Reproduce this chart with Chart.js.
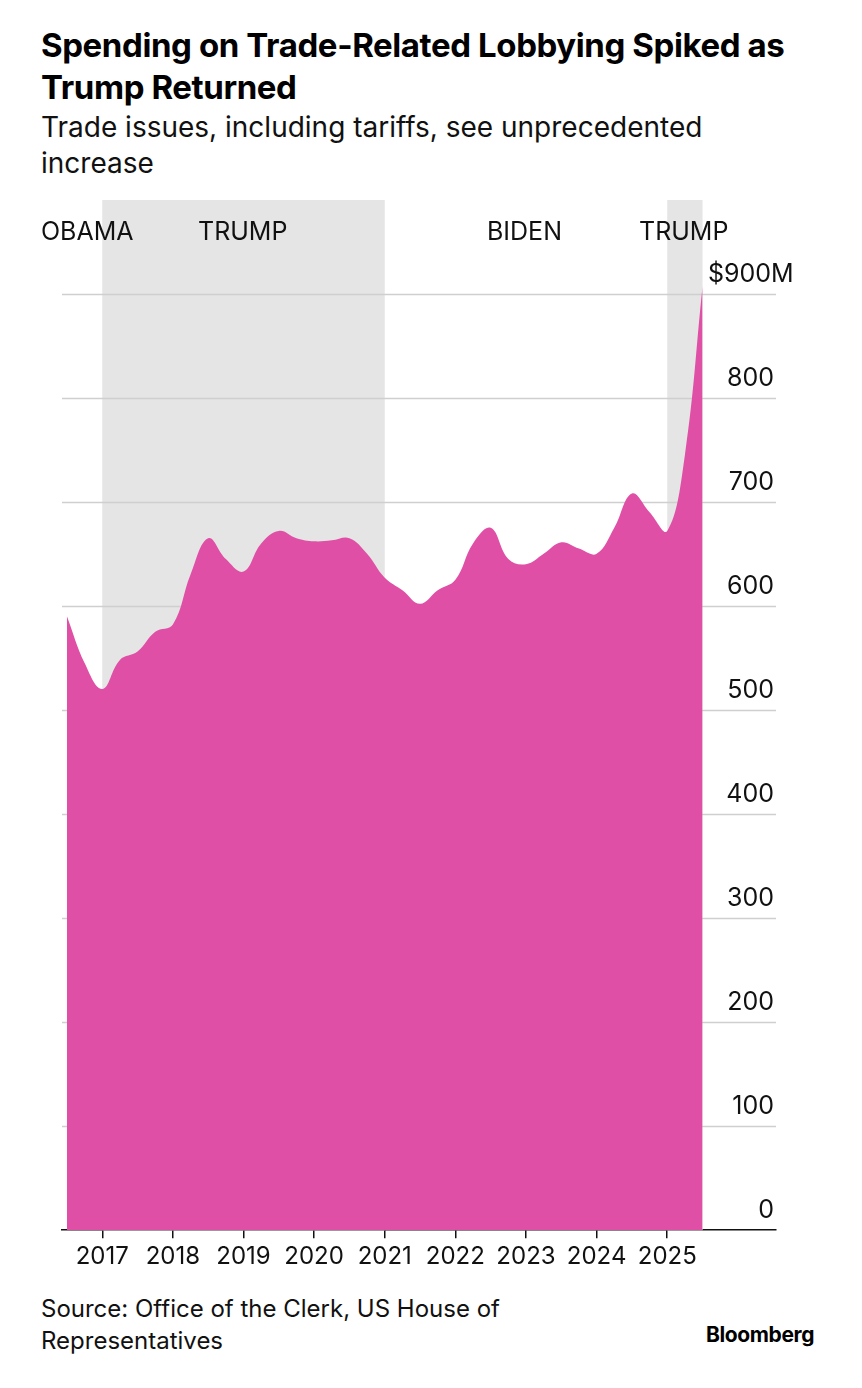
<!DOCTYPE html>
<html>
<head>
<meta charset="utf-8">
<script src="https://cdn.jsdelivr.net/npm/chart.js@4"></script>
<style>
  body { margin:0; width:862px; height:1388px; background:#fff; font-family:Inter, "Noto Sans", sans-serif; position:relative; overflow:hidden; }
  h1 { position:absolute; left:41px; top:24px; margin:0; font-size:33px; line-height:42px; font-weight:700; width:800px; letter-spacing:-0.4px; }
  .sub { position:absolute; left:41px; top:109px; font-size:28px; line-height:36px; width:720px; color:#111; }
  .src { position:absolute; left:41px; top:1293px; font-size:24px; line-height:32px; color:#111; }
  .logo { position:absolute; right:48px; top:1322px; font-size:21px; font-weight:700; letter-spacing:-0.4px; }
  #wrap { position:absolute; left:0; top:195px; width:862px; height:1080px; }
</style>
</head>
<body>
<h1>Spending on Trade-Related Lobbying Spiked as Trump Returned</h1>
<div class="sub">Trade issues, including tariffs, see unprecedented increase</div>
<div id="wrap"><canvas id="c"></canvas></div>
<div class="src">Source: Office of the Clerk, US House of<br>Representatives</div>
<div class="logo">Bloomberg</div>
<script>
// quarterly points, in year fractions
const quarters = [2016.5,2016.75,2017,2017.25,2017.5,2017.75,2018,2018.25,2018.5,2018.75,
  2019,2019.25,2019.5,2019.75,2020,2020.25,2020.5,2020.75,2021,2021.25,2021.5,2021.75,
  2022,2022.25,2022.5,2022.75,2023,2023.25,2023.5,2023.75,2024,2024.25,2024.5,2024.75,
  2025,2025.25,2025.5];
// spending, $M
const spending = [590,545,520,548,556,575,582,630,665,645,
  633,660,672,665,662,663,665,650,627,615,602,615,
  625,660,675,645,640,650,661,655,650,675,708,690,
  672,745,907];
const yearTicks = [2017,2018,2019,2020,2021,2022,2023,2024,2025];
const yTicks = [0,100,200,300,400,500,600,700,800,900];
const terms = [
  {label:'OBAMA', from:null, to:2017, shade:false},
  {label:'TRUMP', from:2017, to:2021, shade:true},
  {label:'BIDEN', from:2021, to:2025, shade:false},
  {label:'TRUMP', from:2025, to:2025.5, shade:true}
];
const termLabelX = [41,198,487,639];
const FONT = 'Inter, "Noto Sans", sans-serif';

const bgPlugin = {
  id:'bg',
  beforeDatasetsDraw(chart) {
    const {ctx, chartArea:a, scales:{x,y}} = chart;
    ctx.save();
    ctx.fillStyle = '#e5e5e5';
    terms.filter(t=>t.shade).forEach(t=>{
      const x0 = x.getPixelForValue(t.from), x1 = x.getPixelForValue(t.to);
      ctx.fillRect(x0, a.top, x1-x0, a.bottom-a.top);
    });
    ctx.strokeStyle = '#cfcfcf'; ctx.lineWidth = 1.5;
    yTicks.forEach(v=>{
      if (v===0) return;
      const py = Math.round(y.getPixelForValue(v))+0.5;
      ctx.beginPath(); ctx.moveTo(a.left, py); ctx.lineTo(a.right, py); ctx.stroke();
    });
    ctx.restore();
  },
  afterDraw(chart) {
    const {ctx, chartArea:a, scales:{y}} = chart;
    ctx.save();
    ctx.fillStyle = '#111';
    ctx.font = '25px ' + FONT;
    ctx.textBaseline = 'alphabetic';
    ctx.textAlign = 'left';
    terms.forEach((t,i)=>ctx.fillText(t.label, termLabelX[i], 45));
    ctx.textAlign = 'right';
    yTicks.forEach(v=>{
      const py = y.getPixelForValue(v);
      if (v===900) { ctx.textAlign='left'; ctx.fillText('$900M', 708, py-12); ctx.textAlign='right'; }
      else ctx.fillText(String(v), a.right-2, py-12);
    });
    ctx.restore();
  }
};

new Chart(document.getElementById('c'), {
  type:'line',
  data:{ datasets:[{
    data: quarters.map((q,i)=>({x:q, y:spending[i]})),
    fill:'origin', backgroundColor:'#e04fa6', borderWidth:0, pointRadius:0, tension:0.4
  }]},
  options:{
    responsive:true, maintainAspectRatio:false, animation:false,
    layout:{ padding:{ top:5, left:62, right:86, bottom:0 } },
    plugins:{ legend:{display:false}, tooltip:{enabled:false} },
    scales:{
      x:{ type:'linear', min:2016.43, max:2026.54,
        afterBuildTicks: s => { s.ticks = yearTicks.map(v=>({value:v})); },
        ticks:{ color:'#111', font:{size:24, family:FONT}, padding:4, maxRotation:0, callback:v=>String(v) },
        grid:{ drawOnChartArea:false, drawTicks:true, tickLength:8, color:'#111', lineWidth:1.5 },
        border:{ color:'#111', width:1.5 }
      },
      y:{ display:false, min:0, max:990 }
    }
  },
  plugins:[bgPlugin]
});
</script>
</body>
</html>
